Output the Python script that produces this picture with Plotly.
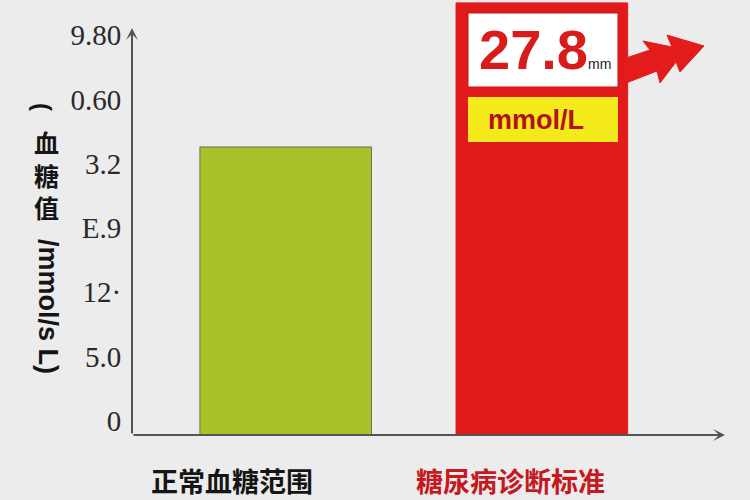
import plotly.graph_objects as go

# ---- data ----
categories = ["正常血糖范围", "糖尿病诊断标准"]
values = [4.48, 6.72]              # bar heights in axis units
tick_positions = [0.22, 1.22, 2.22, 3.22, 4.22, 5.22, 6.22]
tick_labels = ["0", "5.0", "12·", "E.9", "3.2", "0.60", "9.80"]
bar_colors = ["#a9c22a", "#e11b1b"]
label_colors = ["#151515", "#c41a1f"]
callout_value = "27.8"
callout_unit = "mmol/L"
ytitle_cjk = ["血", "糖", "值"]
ytitle_unit = "/mmol/s L)"

W, H = 750, 500
L, R, T, B = 132, 25, 0, 65
PW, PH = W - L - R, H - T - B


def px(x):
    return (x - L) / PW


def py(y):
    return (H - B - y) / PH


fig = go.Figure()
fig.add_trace(go.Bar(
    x=categories, y=values, width=0.67,
    marker=dict(color=bar_colors, line=dict(color=["rgba(70,70,70,0.7)", bar_colors[1]], width=1)),
    hoverinfo="skip",
))

shapes = []
# white box and yellow box in callout
shapes.append(dict(type="rect", xref="paper", yref="paper", x0=px(468), x1=px(618), y0=py(87), y1=py(13),
                   fillcolor="white", line=dict(color="#c81515", width=1), layer="above"))
shapes.append(dict(type="rect", xref="paper", yref="paper", x0=px(468), x1=px(618), y0=py(142), y1=py(97),
                   fillcolor="#f4ea1c", line=dict(width=0), layer="above"))
# zigzag arrow
pts = [(626, 58), (650, 50), (643, 41), (672, 47), (667, 35), (704, 46),
       (680, 72), (676, 62), (660, 83), (657, 71), (626, 83)]
path = "M " + " L ".join(f"{px(x):.4f},{py(y):.4f}" for x, y in pts) + " Z"
shapes.append(dict(type="path", xref="paper", yref="paper", path=path,
                   fillcolor="#e31b1b", line=dict(color="#e31b1b", width=1), layer="above"))

ann = []
# axis arrows
ann.append(dict(xref="paper", yref="paper", x=0, y=py(28), ax=0, ay=407, text="", showarrow=True,
                arrowhead=3, arrowsize=1, arrowwidth=2, arrowcolor="#555555"))
ann.append(dict(xref="paper", yref="paper", x=1, y=0, ax=-PW, ay=0, text="", showarrow=True,
                arrowhead=3, arrowsize=1, arrowwidth=2, arrowcolor="#555555"))
# category labels
for i, (c, col, sh) in enumerate(zip(categories, label_colors, [-54, -31])):
    ann.append(dict(xref="x", yref="paper", x=c, xshift=sh, y=py(480), yanchor="middle", xanchor="center",
                    text=f"<b>{c}</b>", showarrow=False,
                    font=dict(family="Noto Sans CJK SC", size=27, color=col)))
# callout texts
ann.append(dict(xref="paper", yref="paper", x=px(545), y=py(50), yanchor="middle", xanchor="center",
                text=f"<b>{callout_value}</b><span style='font-size:14px;color:#222'>mm</span>",
                showarrow=False, font=dict(family="Liberation Sans", size=56, color="#d81c1c")))
ann.append(dict(xref="paper", yref="paper", x=px(536), y=py(120), yanchor="middle", xanchor="center",
                text=f"<b>{callout_unit}</b>", showarrow=False,
                font=dict(family="Liberation Sans", size=27, color="#b3121a")))
# y axis title pieces
ann.append(dict(xref="paper", yref="paper", x=px(43), y=py(107), yanchor="middle", xanchor="center",
                textangle=90, text="<b>(</b>", showarrow=False,
                font=dict(family="Liberation Sans", size=24, color="#151515")))
ann.append(dict(xref="paper", yref="paper", x=px(46), y=py(174), yanchor="middle", xanchor="center",
                text="<b>" + "<br>".join(ytitle_cjk) + "</b>", showarrow=False,
                font=dict(family="Noto Sans CJK SC", size=25, color="#151515")))
ann.append(dict(xref="paper", yref="paper", x=px(48), y=py(307), yanchor="middle", xanchor="center",
                textangle=90, text=f"<b>{ytitle_unit}</b>", showarrow=False,
                font=dict(family="Liberation Sans", size=27, color="#151515")))

fig.update_layout(
    width=W, height=H,
    margin=dict(l=L, r=R, t=T, b=B, pad=0),
    paper_bgcolor="#ececec", plot_bgcolor="#ececec",
    showlegend=False,
    shapes=shapes, annotations=ann,
    xaxis=dict(range=[-0.6, 1.715], showgrid=False, showline=False, zeroline=False,
               showticklabels=False, ticks=""),
    yaxis=dict(range=[0, 6.765], showgrid=False, showline=False, zeroline=False,
               tickvals=tick_positions, ticktext=tick_labels, ticks="outside", ticklen=4,
               tickcolor="rgba(0,0,0,0)",
               tickfont=dict(family="Liberation Serif", size=29, color="#2a2a2a")),
)

fig.write_html("out.html", config={"displayModeBar": False},
               post_script="document.body.style.margin='0';")
